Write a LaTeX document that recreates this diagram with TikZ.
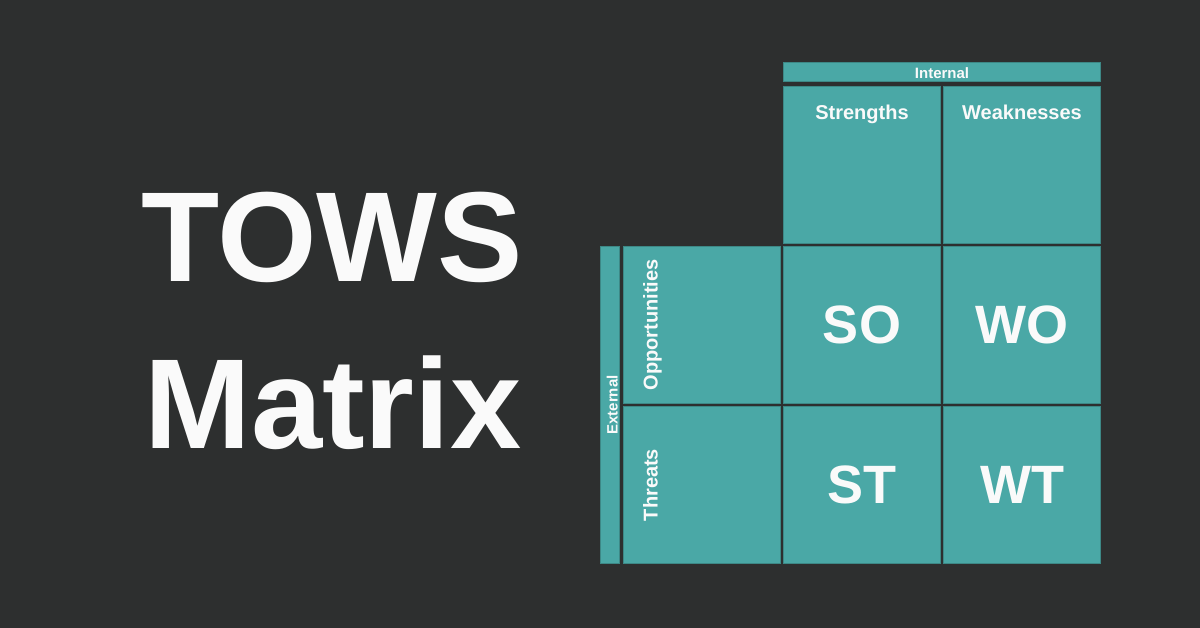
\documentclass[tikz,border=0pt]{standalone}
\usepackage{fontspec}
\setmainfont{Liberation Sans}
\usetikzlibrary{positioning}
\definecolor{bgdark}{HTML}{2D2F2F}
\definecolor{towsteal}{HTML}{4AA8A6}
\definecolor{tealedge}{HTML}{3D8886}
\definecolor{offwhite}{HTML}{FAFAFA}
\tikzset{
  cell/.style={rectangle,fill=towsteal,draw=tealedge,line width=1pt,
    minimum width=157pt,minimum height=157pt,inner sep=0pt,outer sep=0pt},
  hbar/.style={cell,minimum width=317pt,minimum height=19pt},
  vbar/.style={cell,minimum width=19pt,minimum height=317pt},
  head/.style={text=offwhite,anchor=base,inner sep=0pt,font=\bfseries\fontsize{20}{20}\selectfont},
  tag/.style={text=offwhite,anchor=base,inner sep=0pt,font=\bfseries\fontsize{15}{15}\selectfont},
  pair/.style={text=offwhite,font=\bfseries\fontsize{54}{54}\selectfont},
  bigtitle/.style={text=offwhite,anchor=base,inner sep=0pt,font=\bfseries\fontsize{128}{128}\selectfont}
}
\begin{document}
\begin{tikzpicture}[x=1pt,y=-1pt]
\useasboundingbox (0,0) rectangle (1200,628);
\fill[bgdark] (0,0) rectangle (1200,628);

% title
\node[bigtitle] (tows) at (332,282) {TOWS};
\node[bigtitle] (matrix) at (333,448) {Matrix};

% internal factors
\node[hbar] (internal) at (942,72.5) {};
\node[tag] (internaltxt) at ([yshift=3.2pt]internal.south) {Internal};
\node[cell] (s) at (862,165) {};
\node[cell] (w) at (1022,165) {};
\node[head] (strengths) at ([yshift=-33pt]s.north) {Strengths};
\node[head] (weaknesses) at ([yshift=-33pt]w.north) {Weaknesses};

% external factors
\node[vbar] (external) at (610,405) {};
\node[tag,rotate=90] (externaltxt) at ([xshift=-2pt]external.east) {External};
\node[cell] (o) at (702,325) {};
\node[cell] (t) at (702,485) {};
\node[head,rotate=90] (opportunities) at ([xshift=34pt]o.west) {Opportunities};
\node[head,rotate=90] (threats) at ([xshift=34pt]t.west) {Threats};

% strategies
\node[cell,pair] (so) at (862,325) {SO};
\node[cell,pair] (wo) at (1022,325) {WO};
\node[cell,pair] (st) at (862,485) {ST};
\node[cell,pair] (wt) at (1022,485) {WT};
\end{tikzpicture}
\end{document}
